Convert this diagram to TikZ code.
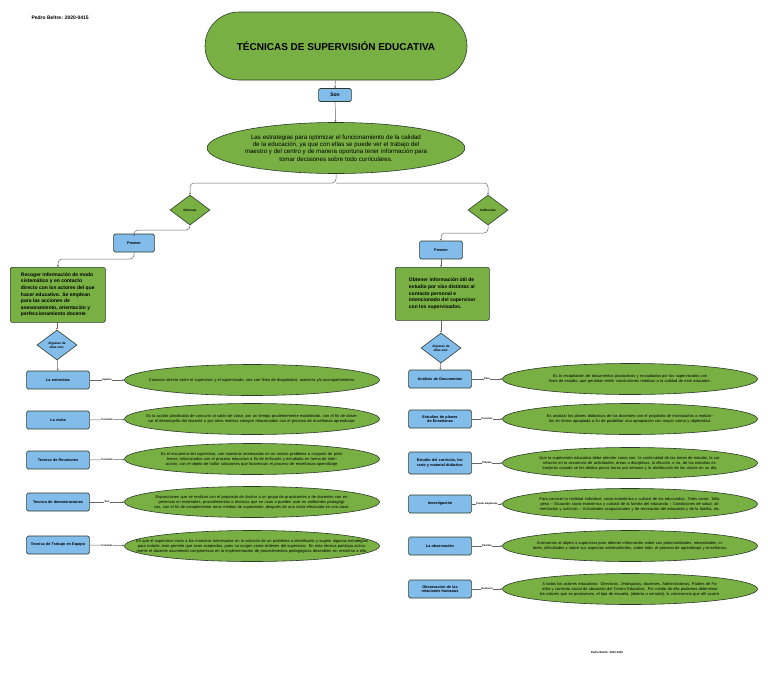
\documentclass[tikz,border=0pt]{standalone}
\usepackage{fontspec}
\setmainfont{Liberation Sans}
\usetikzlibrary{shapes.geometric,arrows.meta}
\definecolor{gr}{HTML}{79B043}
\definecolor{bl}{HTML}{82BCEB}
\definecolor{ln}{HTML}{2B3A2A}
\tikzset{
 ell/.style={rectangle,minimum width=255pt,minimum height=30pt,inner sep=0pt,align=center,text width=236pt,font=\fontsize{4}{5}\selectfont},
 box/.style={rectangle,rounded corners=1.5pt,draw=ln,fill=bl,line width=0.6pt,minimum width=62pt,minimum height=18pt,align=center,text width=56pt,font=\bfseries\fontsize{3.8}{4.6}\selectfont},
 dia/.style={diamond,draw=ln,line width=0.6pt,minimum width=40pt,minimum height=30pt,inner sep=0pt,aspect=1.35,align=center,font=\bfseries\fontsize{3.2}{4}\selectfont},
 gbox/.style={rectangle,rounded corners=1.5pt,draw=ln,fill=gr,line width=0.6pt,align=left,anchor=north west,inner sep=3pt,font=\bfseries\fontsize{5}{6.6}\selectfont},
 con/.style={draw=gray!80!black,line width=0.5pt,-{Stealth[length=2pt,width=2pt]}},
 lab/.style={fill=white,inner sep=0.5pt,font=\bfseries\fontsize{2.6}{3}\selectfont}
}
\newcommand\ellnode[3]{\fill[gr,draw=ln,line width=0.6pt] (#2) ellipse (127.5pt and 15.5pt); \node[ell] (#1) at (#2) {#3};}
\begin{document}
\begin{tikzpicture}[x=1pt,y=-1pt]
\useasboundingbox (0,0) rectangle (768,672);
\node[font=\bfseries\fontsize{5}{6}\selectfont,anchor=west] (au) at (28,18) {Pedro Beltre: 2020-0415};
\node[font=\bfseries\fontsize{2.8}{3}\selectfont] (au2) at (607,652) {Pedro Beltre: 2020-0415};
\node[rectangle,rounded corners=34pt,draw=ln,fill=gr,line width=0.6pt,minimum width=262pt,minimum height=68pt,font=\bfseries\fontsize{10}{12}\selectfont] (t) at (336,46) {TÉCNICAS DE SUPERVISIÓN EDUCATIVA};
\node[box,minimum width=30pt,text width=26pt,minimum height=13pt,font=\bfseries\fontsize{5}{6}\selectfont] (son) at (335,95) {Son};
\node[ellipse,draw=ln,fill=gr,line width=0.6pt,minimum width=250pt,minimum height=51pt,inner sep=0pt,align=center,font=\fontsize{6.2}{7.2}\selectfont] (s) at (336,148) {Las estrategias para optimizar el funcionamiento de la calidad\\de la educación, ya que con ellas se puede ver el trabajo del\\maestro y del centro y de manera oportuna tener información para\\tomar decisiones sobre todo curriculares.};
\draw[con] (t) -- (son);
\draw[con] (son) -- (s);
\node[dia,fill=gr] (d1) at (190,210) {Directas};
\node[dia,fill=gr] (d2) at (488,210) {Indirectas};
\coordinate (sp) at (336,183);
\draw[con,rounded corners=4pt] (s.south) -- (sp) -| (d1.north);
\draw[con,rounded corners=4pt] (sp) -| (d2.north);
\node[box,minimum width=38pt,text width=34pt] (p1) at (134,243) {Poseen};
\node[box,minimum width=40pt,text width=36pt] (p2) at (441,250) {Poseen};
\draw[con,rounded corners=4pt] (d1.south) |- (134,230) -- (p1.north);
\draw[con,rounded corners=4pt] (d2.south) |- (441,233) -- (p2.north);
\node[gbox,minimum width=95pt,minimum height=55pt] (g1) at (10,267) {Recoger información de modo\\sistemático y en contacto\\directo con los actores del que\\hacer educativo. Se emplean\\para las acciones de\\asesoramiento, orientación y\\perfeccionamiento docente};
\node[gbox,minimum width=94pt,minimum height=53pt] (g2) at (395,267) {Obtener información útil de\\estudio por vías distintas al\\contacto personal e\\intencionado del supervisor\\con los supervisados.};
\draw[con,rounded corners=4pt] (p1.south) |- (58,259) -- (58,267);
\draw[con] (p2) -- (441,267);
\node[dia,fill=bl] (a1) at (57,345) {Algunas de\\ellas son:};
\node[dia,fill=bl] (a2) at (441,348) {Algunas de\\ellas son:};
\draw[con] (57,322) -- (a1.north);
\draw[con] (441,320) -- (a2.north);
% left
\node[box] (l1) at (58,380) {La entrevista};
\node[box] (l2) at (58,420) {La visita};
\node[box] (l3) at (58,460) {Tecnica de Reuniones};
\node[box] (l4) at (58,502) {Tecnica de demostraciones};
\node[box] (l5) at (58,545) {Tecnica de Trabajo en Equipo};
\draw[con] (a1) -- (l1);
\ellnode{e1}{252,380}{Contacto directo entre el supervisor y el supervisado, sea con fines de diagnóstico, asesoría y/o acompañamiento.}
\ellnode{e2}{252,419}{Es la acción planificada de concurrir al salón de clase, por un tiempo prudentemente establecido, con el fin de observar el desempeño del docente o por otros motivos siempre relacionados con el proceso de enseñanza-aprendizaje.}
\ellnode{e3}{252,459}{Es el encuentro del supervisor, con maestros interesados en un mismo problema o conjunto de problemas, relacionados con el proceso educativo a fin de enfocarlo y estudiarlo en forma de interacción, con el objeto de hallar soluciones que favorezcan el proceso de enseñanza-aprendizaje.}
\ellnode{e4}{252,502}{Exposiciones que se realizan con el propósito de ilustrar a un grupo de practicantes o de docentes con experiencia en materiales, procedimientos o técnicas que se usan o pueden usar en ambientes pedagógicos, con el fin de complementar otros medios de supervisión, después de una visita efectuada en una clase.}
\ellnode{e5}{252,546}{En que el supervisor invita a los maestros interesados en la solución de un problema a identificarlo y sugerir algunas estrategias para tratarlo, esto permite que sean aceptadas, pues no surgen como órdenes del supervisor. En esta técnica participa activamente el docente asumiendo compromisos en la implementación de procedimientos pedagógicos deseables sin resistirse a ello.}
\draw[con] (l1) -- node[lab]{Implica} (e1);
\draw[con] (l2) -- node[lab]{Consiste} (e2);
\draw[con] (l3) -- node[lab]{Consiste} (e3);
\draw[con] (l4) -- node[lab]{Son} (e4);
\draw[con] (l5) -- node[lab]{Consiste} (e5);
% right
\node[box] (r1) at (440,379) {Análisis de Documentos};
\node[box] (r2) at (440,419) {Estudios de planes de Enseñanza};
\node[box,minimum height=22pt] (r3) at (440,463) {Estudio del currículo, horario y material didáctico};
\node[box] (r4) at (440,504) {Investigación};
\node[box] (r5) at (440,546) {La observación};
\node[box] (r6) at (440,589) {Observación de las relaciones humanas};
\draw[con] (a2) -- (r1);
\ellnode{f1}{630,379}{Es la recopilación de documentos productivos y recaudados por los supervisados con fines de estudio, que permitan emitir conclusiones relativas a la calidad de este educador.}
\ellnode{f2}{630,419}{Es analizar los planes didácticos de los docentes con el propósito de estimularlos a realizarlos en forma apropiada a fin de posibilitar una apropiación con mayor calma y objetividad.}
\ellnode{f3}{630,463}{Que la supervisión educativa debe atender como son: la continuidad de las áreas de estudio, la correlación en la secuencia de actividades, áreas o disciplinas, la dilución, o no, de los estudios extranjeros cuando se les dedica pocas horas por semana y la distribución de las clases en un día.}
\ellnode{f4}{630,504}{Para conocer la realidad individual, socio-económica y cultural de los educandos. Tales como: Talla, peso – Situación socio-económica y cultural de la familia del educando – Condiciones de salud, alimentación y nutrición – Actividades ocupacionales y de recreación del educando y de la familia, etc.}
\ellnode{f5}{630,546}{Acercarnos al objeto a supervisar para obtener información sobre sus potencialidades, necesidades, interés, dificultades y sobre sus aspectos sobresalientes, sobre todo, el proceso de aprendizaje y enseñanza.}
\ellnode{f6}{630,589}{A todos los actores educativos: Directivos, Jerárquicos, docentes, Administrativos, Padres de Familia y contexto social de ubicación del Centro Educativo. Por medio de ella podemos determinar los valores que se promueven, el tipo de escuela, (abierta o cerrada), la convivencia que allí ocurre.}
\draw[con] (r1) -- node[lab]{Para} (f1);
\draw[con] (r2) -- node[lab]{Consiste} (f2);
\draw[con] (r3) -- node[lab]{Plantea} (f3);
\draw[con] (r4) -- node[lab]{Puede emplearse} (f4);
\draw[con] (r5) -- node[lab]{Permite} (f5);
\draw[con] (r6) -- node[lab]{Involucra} (f6);
\end{tikzpicture}
\end{document}
